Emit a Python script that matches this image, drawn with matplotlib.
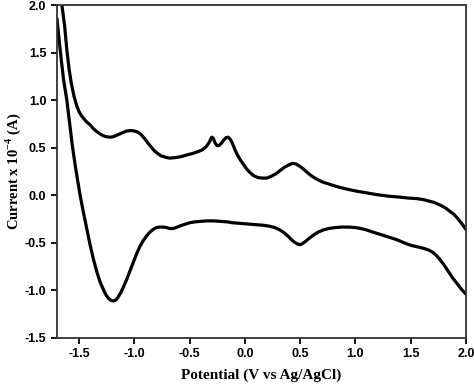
import matplotlib
matplotlib.use("Agg")
import matplotlib.pyplot as plt

plt.rcParams['mathtext.fontset'] = 'custom'
plt.rcParams['mathtext.rm'] = 'Liberation Serif:bold'
plt.rcParams['mathtext.bf'] = 'Liberation Serif:bold'

# anodic (upper) branch
x_up = [-1.66, -1.63, -1.61, -1.59, -1.57, -1.545, -1.52, -1.50, -1.48, -1.46, -1.43,
        -1.40, -1.37, -1.34, -1.31, -1.28, -1.25, -1.22, -1.19, -1.16, -1.13, -1.10,
        -1.07, -1.03, -1.00, -0.97, -0.94, -0.91, -0.88, -0.85, -0.82, -0.79, -0.76,
        -0.72, -0.68, -0.63, -0.58, -0.52, -0.47, -0.42, -0.38, -0.35, -0.32, -0.30,
        -0.285, -0.27, -0.25, -0.23, -0.21, -0.19, -0.17, -0.15, -0.13, -0.11, -0.09,
        -0.07, -0.04, -0.01, 0.02, 0.05, 0.08, 0.12, 0.16, 0.20, 0.24, 0.28, 0.32,
        0.36, 0.40, 0.43, 0.46, 0.49, 0.52, 0.56, 0.60, 0.65, 0.70, 0.78, 0.85,
        0.92, 1.00, 1.10, 1.20, 1.30, 1.40, 1.48, 1.55, 1.61, 1.66, 1.71, 1.76,
        1.81, 1.85, 1.89, 1.93, 1.97, 2.00]
y_up = [2.05, 1.78, 1.53, 1.33, 1.18, 1.04, 0.94, 0.88, 0.84, 0.81, 0.77,
        0.74, 0.70, 0.67, 0.645, 0.625, 0.615, 0.61, 0.615, 0.63, 0.645, 0.66,
        0.675, 0.68, 0.675, 0.665, 0.64, 0.60, 0.555, 0.51, 0.47, 0.44, 0.415,
        0.40, 0.39, 0.395, 0.405, 0.425, 0.44, 0.46, 0.48, 0.51, 0.56, 0.61,
        0.60, 0.55, 0.52, 0.525, 0.55, 0.58, 0.605, 0.61, 0.585, 0.54, 0.48,
        0.43, 0.37, 0.32, 0.27, 0.235, 0.205, 0.185, 0.18, 0.18, 0.20, 0.225, 0.26,
        0.295, 0.32, 0.335, 0.33, 0.31, 0.285, 0.245, 0.205, 0.17, 0.14, 0.11, 0.085,
        0.065, 0.045, 0.025, 0.005, -0.01, -0.02, -0.03, -0.035, -0.045, -0.06, -0.075, -0.10,
        -0.13, -0.165, -0.20, -0.25, -0.31, -0.36]

# cathodic (lower) branch
x_low = [-1.70, -1.68, -1.66, -1.64, -1.61, -1.585, -1.56, -1.535, -1.51, -1.49, -1.46,
         -1.43, -1.40, -1.37, -1.34, -1.31, -1.28, -1.26, -1.24, -1.22, -1.20, -1.18,
         -1.16, -1.14, -1.12, -1.10, -1.07, -1.04, -1.01, -0.98, -0.95, -0.92, -0.89,
         -0.86, -0.83, -0.80, -0.77, -0.74, -0.71, -0.68, -0.65, -0.62, -0.58, -0.54,
         -0.50, -0.45, -0.40, -0.34, -0.28, -0.22, -0.16, -0.11, -0.05, 0.00, 0.05,
         0.10, 0.16, 0.22, 0.27, 0.31, 0.35, 0.39, 0.42, 0.45, 0.48, 0.50, 0.52,
         0.55, 0.58, 0.62, 0.66, 0.71, 0.76, 0.82, 0.88, 0.94, 1.00, 1.05, 1.10,
         1.15, 1.22, 1.30, 1.38, 1.45, 1.51, 1.57, 1.62, 1.66, 1.70, 1.73, 1.76,
         1.80, 1.84, 1.88, 1.92, 1.96, 2.00]
y_low = [1.86, 1.64, 1.42, 1.22, 1.00, 0.76, 0.52, 0.32, 0.14, 0.00, -0.18,
         -0.35, -0.52, -0.67, -0.80, -0.91, -0.99, -1.04, -1.075, -1.10, -1.11, -1.11,
         -1.095, -1.06, -1.02, -0.97, -0.89, -0.80, -0.71, -0.62, -0.54, -0.48, -0.43,
         -0.39, -0.36, -0.34, -0.335, -0.335, -0.34, -0.35, -0.35, -0.34, -0.32, -0.305,
         -0.29, -0.28, -0.275, -0.27, -0.27, -0.275, -0.28, -0.29, -0.295, -0.30, -0.305,
         -0.31, -0.315, -0.325, -0.34, -0.36, -0.39, -0.43, -0.465, -0.495, -0.515, -0.52, -0.51,
         -0.485, -0.455, -0.42, -0.39, -0.365, -0.35, -0.34, -0.335, -0.335, -0.34, -0.35, -0.365,
         -0.385, -0.41, -0.44, -0.47, -0.505, -0.53, -0.545, -0.56, -0.575, -0.60, -0.63, -0.67,
         -0.73, -0.80, -0.87, -0.93, -0.99, -1.04]

x_ticks = [-1.5, -1.0, -0.5, 0.0, 0.5, 1.0, 1.5, 2.0]
y_ticks = [-1.5, -1.0, -0.5, 0.0, 0.5, 1.0, 1.5, 2.0]

fig = plt.figure(figsize=(4.74, 3.87), dpi=100)
ax = fig.add_axes([0.120, 0.127, 0.863, 0.860])

ax.plot(x_up, y_up, color='black', lw=2.3, solid_joinstyle='round', solid_capstyle='round')
ax.plot(x_low, y_low, color='black', lw=2.3, solid_joinstyle='round', solid_capstyle='round')

ax.set_xlim(-1.7, 2.0)
ax.set_ylim(-1.5, 2.0)
ax.set_xticks(x_ticks)
ax.set_yticks(y_ticks)
ax.set_xticklabels([f"{v:.1f}" for v in x_ticks])
ax.set_yticklabels([f"{v:.1f}" for v in y_ticks])
ax.tick_params(direction='out', length=4, width=1.3, top=False, right=False)
for lab in ax.get_xticklabels() + ax.get_yticklabels():
    lab.set_fontfamily('Liberation Sans')
    lab.set_fontweight('bold')
    lab.set_fontsize(9)
for sp in ax.spines.values():
    sp.set_linewidth(1.3)
    sp.set_color('#333333')

ax.set_xlabel('Potential (V vs Ag/AgCl)', fontfamily='Liberation Serif',
              fontweight='bold', fontsize=11, labelpad=6)
ax.set_ylabel(r'Current x 10$^{-4}$ (A)', fontfamily='Liberation Serif',
              fontweight='bold', fontsize=10.5, labelpad=1)

fig.savefig('out.png', dpi=100)
